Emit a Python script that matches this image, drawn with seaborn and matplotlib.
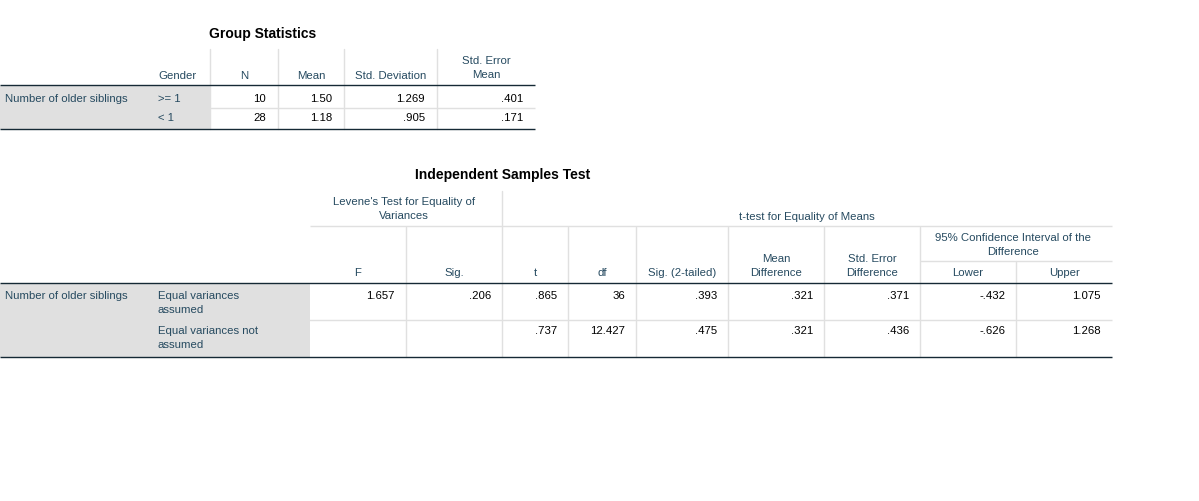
import matplotlib.pyplot as plt
import seaborn as sns

sns.set_style("white")
plt.rcParams['font.family'] = ['Liberation Sans', 'DejaVu Sans']

# Group statistics
gs_cols = ["N", "Mean", "Std. Deviation", "Std. Error\nMean"]
gs_groups = [">= 1", "< 1"]
gs_n = ["10", "28"]
gs_mean = ["1.50", "1.18"]
gs_sd = ["1.269", ".905"]
gs_se = [".401", ".171"]

# Independent samples test
ist_cols = ["F", "Sig.", "t", "df", "Sig. (2-tailed)", "Mean\nDifference",
            "Std. Error\nDifference", "Lower", "Upper"]
ist_rows = ["Equal variances\nassumed", "Equal variances not\nassumed"]
ist_vals = [["1.657", ".206", ".865", "36", ".393", ".321", ".371", "-.432", "1.075"],
            ["", "", ".737", "12.427", ".475", ".321", ".436", "-.626", "1.268"]]

HEAD = "#264a60"
GRID = "#e0e0e0"
DARK = "#152935"
FS = 8.2

fig = plt.figure(figsize=(11.99, 5.02), dpi=100)
ax = fig.add_axes([0, 0, 1, 1])
ax.set_xlim(0, 1199)
ax.set_ylim(502, 0)
ax.axis("off")

def hline(y, x0, x1, c=DARK, lw=1):
    ax.plot([x0, x1], [y, y], color=c, lw=lw, solid_capstyle="butt")

def vline(x, y0, y1, c=GRID):
    ax.plot([x, x], [y0, y1], color=c, lw=1)

def txt(x, y, s, ha="left", c=HEAD, **kw):
    ax.text(x, y, s, ha=ha, va="center", color=c, fontsize=FS, linespacing=1.45, **kw)

# ---- Group Statistics ----
ax.text(263, 34, "Group Statistics", ha="center", va="center", fontsize=10, fontweight="bold", color="black")
edges = [210, 278, 344, 437, 535]
ax.add_patch(plt.Rectangle((0, 87), 210, 43, color="#e0e0e0", lw=0))
for x in edges[:-1]:
    vline(x, 50, 130)
txt(158, 76, "Gender")
for i, c in enumerate(gs_cols):
    cx = (edges[i] + edges[i + 1]) / 2
    txt(cx, 68 if "\n" in c else 76, c, ha="center")
hline(86, 0, 535)
txt(5, 99, "Number of older siblings")
for r, g in enumerate(gs_groups):
    y = 99 + r * 19
    txt(158, y, g)
    for i, v in enumerate([gs_n[r], gs_mean[r], gs_sd[r], gs_se[r]]):
        txt(edges[i + 1] - 12, y, v, ha="right", c="black")
hline(108.5, 150, 535, c=GRID)
hline(130, 0, 535)

# ---- Independent Samples Test ----
ax.text(503, 175, "Independent Samples Test", ha="center", va="center", fontsize=10, fontweight="bold", color="black")
e2 = [310, 406, 502, 568, 636, 728, 824, 920, 1016, 1112]
ax.add_patch(plt.Rectangle((0, 285), 310, 73, color="#e0e0e0", lw=0))
vline(502, 192, 358)
for x in [406, 568, 636, 728, 824, 920]:
    vline(x, 228, 358)
vline(1016, 262, 358)
hline(227, 310, 1112, c=GRID)
hline(262, 920, 1112, c=GRID)
txt(404, 209, "Levene's Test for Equality of\nVariances", ha="center")
txt(807, 217, "t-test for Equality of Means", ha="center")
txt(1013, 245, "95% Confidence Interval of the\nDifference", ha="center")
for i, c in enumerate(ist_cols):
    cx = (e2[i] + e2[i + 1]) / 2
    txt(cx, 266 if "\n" in c else 273, c, ha="center")
hline(284, 0, 1112)
txt(5, 296, "Number of older siblings")
for r, lab in enumerate(ist_rows):
    y = 296 + r * 35
    txt(158, y + 7, lab)
    for i, v in enumerate(ist_vals[r]):
        txt(e2[i + 1] - 11, y, v, ha="right", c="black")
hline(321, 150, 1112, c=GRID)
hline(358, 0, 1112)

fig.savefig("out.png", dpi=100)
